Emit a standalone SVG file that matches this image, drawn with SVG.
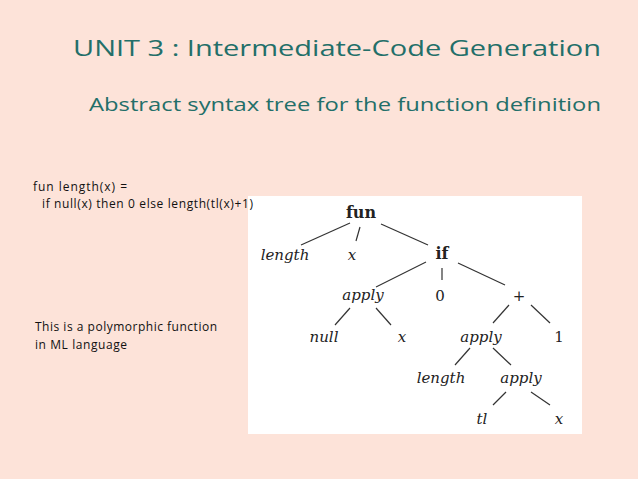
<svg xmlns="http://www.w3.org/2000/svg" width="638" height="479" viewBox="0 0 638 479">
<style>
.t{font-family:"Open Sans","Liberation Sans",sans-serif;fill:#236f69}
.n{font-family:"Open Sans","Liberation Sans",sans-serif;font-size:12px;fill:#111}
.m{font-family:"DejaVu Serif","Liberation Serif",serif;font-size:15px;font-style:italic;fill:#222;text-anchor:middle}
.b{font-family:"DejaVu Serif","Liberation Serif",serif;font-size:16px;font-weight:bold;fill:#222;text-anchor:middle}
.r{font-family:"DejaVu Serif","Liberation Serif",serif;font-size:15px;fill:#222;text-anchor:middle}
#edges line{stroke:#333;stroke-width:1.2}
</style>
<rect width="638" height="479" fill="#fde3d9"/>
<rect x="248" y="196" width="334" height="238" fill="#fff"/>
<text class="t" x="73" y="56" font-size="22" textLength="528" lengthAdjust="spacingAndGlyphs">UNIT 3 : Intermediate-Code Generation</text>
<text class="t" x="89" y="111" font-size="19" textLength="512" lengthAdjust="spacingAndGlyphs">Abstract syntax tree for the function definition</text>
<text class="n" x="33" y="191" textLength="94">fun length(x) =</text>
<text class="n" x="42" y="208" textLength="211">if null(x) then 0 else length(tl(x)+1)</text>
<text class="n" x="35" y="331" textLength="182">This is a polymorphic function</text>
<text class="n" x="35" y="349" textLength="92">in ML language</text>
<g id="edges">
<line x1="350" y1="223" x2="301" y2="245"/>
<line x1="360" y1="227" x2="356" y2="241"/>
<line x1="381" y1="224" x2="428" y2="245"/>
<line x1="426" y1="262" x2="376" y2="287"/>
<line x1="442" y1="268" x2="442" y2="280"/>
<line x1="458" y1="263" x2="505" y2="285"/>
<line x1="350" y1="308" x2="335" y2="325"/>
<line x1="376" y1="308" x2="391" y2="325"/>
<line x1="509" y1="305" x2="493" y2="323"/>
<line x1="531" y1="305" x2="550" y2="323"/>
<line x1="470" y1="348" x2="455" y2="365"/>
<line x1="493" y1="348" x2="511" y2="365"/>
<line x1="506" y1="392" x2="493" y2="405"/>
<line x1="531" y1="392" x2="550" y2="405"/>
</g>
<g id="fun"><text class="b" x="361" y="218">fun</text></g>
<g id="length1"><text class="m" x="285" y="260">length</text></g>
<g id="x1"><text class="m" x="352" y="260">x</text></g>
<g id="if"><text class="b" x="442" y="259">if</text></g>
<g id="apply1"><text class="m" x="363" y="300">apply</text></g>
<g id="zero"><text class="r" x="440" y="301">0</text></g>
<g id="plus"><text class="r" x="519" y="301">+</text></g>
<g id="null"><text class="m" x="324" y="342">null</text></g>
<g id="x2"><text class="m" x="402" y="342">x</text></g>
<g id="apply2"><text class="m" x="481" y="342">apply</text></g>
<g id="one"><text class="r" x="559" y="342">1</text></g>
<g id="length2"><text class="m" x="441" y="383">length</text></g>
<g id="apply3"><text class="m" x="521" y="383">apply</text></g>
<g id="tl"><text class="m" x="482" y="424">tl</text></g>
<g id="x3"><text class="m" x="559" y="424">x</text></g>
</svg>
